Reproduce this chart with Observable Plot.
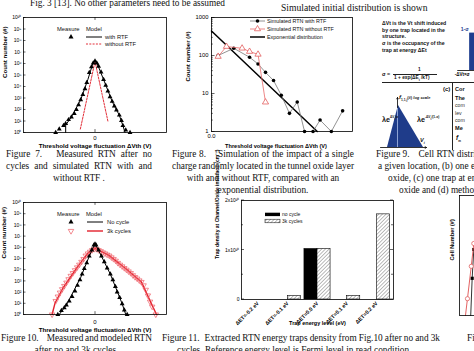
<!DOCTYPE html>
<html><head><meta charset="utf-8">
<script src="https://cdn.jsdelivr.net/npm/d3@7"></script>
<script src="https://cdn.jsdelivr.net/npm/@observablehq/plot@0.6"></script>
<style>
html,body{margin:0;padding:0;background:#fff;}
#page{position:relative;width:474px;height:351px;overflow:hidden;background:#fff;}
#page svg{position:absolute;}
.t{position:absolute;white-space:pre;line-height:1;color:#111;}
.cap{font-family:'Liberation Serif','Times New Roman',serif;}
.sans{font-family:'Liberation Sans',Arial,sans-serif;}
.hl{position:absolute;background:#222;}
</style></head><body><div id="page"></div>
<script>
// ---------------- DATA ----------------
const decades = [1, 10, 100, 1e3, 1e4, 1e5, 1e6, 1e7, 1e8, 1e9, 1e10];

// Figure 7
const fig7MeasX = [-0.55,-0.50,-0.44,-0.41,-0.37,-0.33,-0.29,-0.26,-0.23,-0.20,-0.17,-0.14,-0.115,-0.08,-0.05,-0.025,0,0.025,0.05,0.085,0.12,0.15,0.18,0.21,0.24,0.27,0.30,0.34,0.37,0.39,0.43,0.49];
const fig7MeasY = [1,2,4,6,13,22,45,100,250,700,2000,6300,22000,1.6e5,5e5,1.1e6,1.6e6,1.1e6,5.6e5,1.8e5,4e4,1.26e4,4000,1250,500,200,90,32,11,4,1.6,1];
const fig7RtfX = [-0.41,-0.41,-0.33,-0.2,-0.1,-0.03,0,0.03,0.12,0.24,0.34,0.39,0.42];
const fig7RtfY = [1,4.5,22,700,4e4,1e6,1.8e6,1e6,4e4,500,32,4,1];
const fig7NoRtfX = [-0.205,-0.1,-0.03,0,0.03,0.1,0.18];
const fig7NoRtfY = [2,2000,2e5,1.6e6,2e5,2000,10];

// Figure 8
const fig8WithX = [0.047,0.158,0.27,0.33,0.383,0.44,0.495,0.553,0.608,0.66,0.72,0.77,0.85,0.93];
const fig8WithY = [100,155,90,60,36,22,9,3,6,1,1,2,1,3.5];
const fig8WithoutX = [0.047,0.106,0.217,0.27,0.33,0.383];
const fig8WithoutY = [94,172,155,127,107,5.9];
const fig8ExpX = [0, 0.75];
const fig8ExpY = [440, 1];
const fig8YTicks = [1, 10, 100, 1000];
const fig8Minor = [2,3,4,5,6,7,8,9,20,30,40,50,60,70,80,90,200,300,400,500,600,700,800,900];

// Figure 10
const fig10BlkX = [-0.52,-0.47,-0.43,-0.40,-0.36,-0.32,-0.28,-0.245,-0.21,-0.18,-0.15,-0.115,-0.08,-0.045,-0.015,0,0.015,0.05,0.09,0.13,0.17,0.215,0.25,0.285,0.31,0.345,0.38,0.41,0.45];
const fig10BlkY = [1,2.2,4,7,16,40,125,400,1250,4000,12600,40000,1.6e5,5.6e5,1.6e6,2e6,1.6e6,5.6e5,1.6e5,5e4,1.4e4,4000,1250,316,100,32,9,2.5,1];
const fig10BlkLineX = [-0.5,-0.4,-0.2,-0.08,0,0.09,0.215,0.38,0.43];
const fig10BlkLineY = [1,7,2000,1.6e5,2.2e6,1.6e5,4000,9,1];
const fig10RedX = [-0.60,-0.55,-0.52,-0.49,-0.46,-0.43,-0.40,-0.37,-0.34,-0.31,-0.28,-0.25,-0.22,-0.19,-0.16,-0.13,-0.10,-0.07,-0.04,-0.01,0.02,0.05,0.08,0.11,0.14,0.17,0.20,0.23,0.26,0.29,0.32,0.35,0.38,0.41,0.44,0.47,0.50,0.53,0.56,0.59,0.62,0.65,0.68,0.71,0.74,0.77,0.80,0.85];
const fig10RedY = [1,16,40,90,180,350,700,1400,2800,5000,9000,16000,28000,50000,9e4,1.8e5,2.8e5,4e5,5.6e5,7e5,7e5,5.6e5,4.5e5,3.5e5,2.8e5,2.2e5,1.8e5,1.26e5,9e4,6.3e4,4e4,2.8e4,2e4,1.4e4,1e4,7000,5000,3200,2200,1600,1100,800,400,160,50,14,5,1];
const fig10RedLineX = [-0.6,-0.56,-0.45,-0.25,-0.1,0,0.2,0.45,0.65,0.78,0.86];
const fig10RedLineY = [1,10,220,16000,3e5,8e5,1.8e5,1e4,800,12,1];

// Figure 11
const energyCats = ["ΔET=-0.2 eV","ΔET=-0.1 eV","ΔET=0.0 eV","ΔET=0.1 eV","ΔET=0.2 eV"];
const noCycle = [0, 0, 1.02e10, 0, 0];
const cycles3k = [0, 0.07e10, 1.02e10, 0.07e10, 1.72e10];
const fig11Ticks = [0, 1e10, 2e10];
const fig11MinorTicks = [0.5e10, 1.5e10];

// Figure 12 (partly visible)
const fig12RedX = [0.33, 0.44, 0.65, 0.79];
const fig12RedY = [0, 14, 41, 60];
const fig12BlackX = [0.62, 0.70, 0.79];
const fig12BlackY = [0, 31, 55];

// Figure 9 schematic
const fig9TriV = [-1.0, 0.1, 2.6];
const fig9TriF = [0, 4.2, 0];
const fig9Occupancy = 0.85;
const fig9Notes = ["ΔVt is the Vt shift induced", "by one trap located in the", "structure.", "σ is the occupancy of the", "trap at energy ΔEt"];

// ---------------- HELPERS ----------------
const page = document.getElementById("page");
const SANS = "'Liberation Sans', Arial, sans-serif";
const RED = "#e3303a";
const sup = s => String(s).replace(/[-0-9]/g, c => "⁻⁰¹²³⁴⁵⁶⁷⁸⁹"["-0123456789".indexOf(c)]);
const pts = (xs, ys) => xs.map((x, i) => ({x, y: ys[i]}));
const decadeLabel = d => "10" + sup(Math.round(Math.log10(d)));
const style = fs => ({fontFamily: SANS, fontSize: fs + "px", background: "transparent", color: "#000", overflow: "visible"});
const G = draw => (index, scales, values, dims) => { const g = d3.create("svg:g"); draw(g, scales, dims); return g.node(); };
const triDown = {draw(ctx, size) { const s = Math.sqrt(4 * size / Math.sqrt(3)), h = s * Math.sqrt(3) / 2; ctx.moveTo(0, 2 * h / 3); ctx.lineTo(-s / 2, -h / 3); ctx.lineTo(s / 2, -h / 3); ctx.closePath(); }};

function put(svg, left, top) { svg.style.left = left + "px"; svg.style.top = top + "px"; page.appendChild(svg); }

function T(text, left, cy, o = {}) {
  const d = document.createElement("div");
  d.className = "t " + (o.sans ? "sans" : "cap");
  const size = o.size || 9.3;
  d.style.fontSize = size + "px";
  if (o.bold) d.style.fontWeight = "bold";
  if (o.italic) d.style.fontStyle = "italic";
  if (o.color) d.style.color = o.color;
  if (o.html) d.innerHTML = text;
  else if (text.includes("\t")) {
    const [a, b] = text.split("\t");
    d.appendChild(document.createTextNode(a));
    const sp = document.createElement("span"); sp.style.display = "inline-block"; sp.style.width = (o.gap || 10) + "px";
    d.appendChild(sp); d.appendChild(document.createTextNode(b));
  } else d.textContent = text;
  d.style.left = left + "px";
  d.style.top = (cy - 0.6 * size) + "px";
  page.appendChild(d);
  if (o.width) {
    const w = d.getBoundingClientRect().width;
    if (o.align === "center") d.style.left = (left + (o.width - w) / 2) + "px";
    else { const n = (text.match(/ /g) || []).length; if (n) d.style.wordSpacing = ((o.width - w) / n) + "px"; }
  }
  return d;
}
function hline(x1, x2, y) { const d = document.createElement("div"); d.className = "hl"; Object.assign(d.style, {left: x1 + "px", top: y + "px", width: (x2 - x1) + "px", height: "0.8px"}); page.appendChild(d); }
function vline(x, y1, y2) { const d = document.createElement("div"); d.className = "hl"; Object.assign(d.style, {left: x + "px", top: y1 + "px", width: "0.8px", height: (y2 - y1) + "px"}); page.appendChild(d); }

function legText(g, x, y, s, fs = 6) { g.append("text").attr("x", x).attr("y", y).attr("dy", "0.35em").attr("text-anchor", "start").attr("font-size", fs).attr("fill", "#111").text(s); }

// ---------------- FIGURE 7 ----------------
{
  const svg = Plot.plot({
    width: 170, height: 152, marginLeft: 23, marginRight: 4, marginTop: 7, marginBottom: 30,
    style: style(5),
    x: {domain: [-1, 1], label: null},
    y: {type: "log", domain: [1, 1e10], label: null},
    marks: [
      Plot.ruleY(decades, {x1: -1, x2: -0.965, stroke: "black", strokeWidth: 0.6}),
      Plot.ruleX([0], {y1: 1, y2: 1.8, stroke: "black", strokeWidth: 0.6}),
      Plot.ruleX([0], {y1: 5.5e9, y2: 1e10, stroke: "black", strokeWidth: 0.6}),
      Plot.axisY({ticks: decades, tickFormat: decadeLabel, tickSize: 0, tickPadding: 2, fontSize: 5, label: null}),
      Plot.axisX({ticks: [0], tickFormat: () => "0", tickSize: 0, tickPadding: 3.5, fontSize: 6, label: null}),
      Plot.line(pts(fig7NoRtfX, fig7NoRtfY), {x: "x", y: "y", stroke: RED, strokeWidth: 1, strokeDasharray: "2,1.3"}),
      Plot.line(pts(fig7RtfX, fig7RtfY), {x: "x", y: "y", stroke: "black", strokeWidth: 1}),
      Plot.dot(pts(fig7MeasX, fig7MeasY), {x: "x", y: "y", symbol: "triangle", fill: "black", r: 1.8}),
      Plot.text(["Threshold voltage fluctuation ΔVth (V)"], {frameAnchor: "bottom", dy: 15, fontWeight: "bold", fontSize: 6.2}),
      Plot.text(["Count number (#)"], {frameAnchor: "left", rotate: -90, dx: -18, dy: 3, fontWeight: "bold", fontSize: 6.2}),
      G(g => {
        legText(g, 57, 19, "Measure", 5.8); legText(g, 86, 19, "Model", 5.8);
        g.append("path").attr("d", d3.symbol(d3.symbolTriangle, 11)()).attr("transform", "translate(71,27)").attr("fill", "black");
        g.append("line").attr("x1", 86).attr("x2", 102).attr("y1", 27).attr("y2", 27).attr("stroke", "black").attr("stroke-width", 1);
        legText(g, 105, 27, "with RTF", 5.8);
        g.append("line").attr("x1", 86).attr("x2", 102).attr("y1", 34).attr("y2", 34).attr("stroke", RED).attr("stroke-width", 1).attr("stroke-dasharray", "2,1.3");
        legText(g, 105, 34, "without RTF", 5.8);
      }),
      Plot.frame({stroke: "black", strokeWidth: 0.8})
    ]
  });
  put(svg, 0, 10);
}

// ---------------- FIGURE 8 ----------------
{
  const svg = Plot.plot({
    width: 175, height: 150, marginLeft: 26, marginRight: 8, marginTop: 7, marginBottom: 29,
    style: style(6),
    x: {domain: [0, 1], label: null},
    y: {type: "log", domain: [1, 1000], label: null},
    marks: [
      Plot.ruleY(fig8YTicks, {x1: 0, x2: 0.025, stroke: "black", strokeWidth: 0.6}),
      Plot.ruleY(fig8Minor, {x1: 0, x2: 0.014, stroke: "black", strokeWidth: 0.5}),
      Plot.axisY({ticks: fig8YTicks, tickFormat: d => String(d), tickSize: 0, tickPadding: 3, fontSize: 5.8, label: null}),
      Plot.axisX({ticks: [0], tickFormat: () => "0.0", tickSize: 0, tickPadding: 2, fontSize: 5.8, label: null}),
      Plot.line(pts(fig8ExpX, fig8ExpY), {x: "x", y: "y", stroke: "black", strokeWidth: 1.5}),
      Plot.line(pts(fig8WithX, fig8WithY), {x: "x", y: "y", stroke: "#777", strokeWidth: 0.8}),
      Plot.dot(pts(fig8WithX, fig8WithY), {x: "x", y: "y", fill: "black", r: 1.8}),
      Plot.line(pts(fig8WithoutX, fig8WithoutY), {x: "x", y: "y", stroke: "#e86a6a", strokeWidth: 0.8}),
      Plot.dot(pts(fig8WithoutX, fig8WithoutY), {x: "x", y: "y", symbol: "triangle", stroke: "#e04a4a", fill: "white", strokeWidth: 0.7, r: 2.3}),
      Plot.text(["Threshold voltage fluctuation ΔVth (V)"], {frameAnchor: "bottom", dx: -6, dy: 16, fontWeight: "bold", fontSize: 5.6}),
      Plot.text(["Count number (#)"], {frameAnchor: "left", rotate: -90, dx: -23, dy: 7, fontWeight: "bold", fontSize: 6}),
      G(g => {
        g.append("line").attr("x1", 65).attr("x2", 80).attr("y1", 11).attr("y2", 11).attr("stroke", "#777").attr("stroke-width", 0.8);
        g.append("circle").attr("cx", 72.5).attr("cy", 11).attr("r", 1.8).attr("fill", "black");
        legText(g, 82, 11, "Simulated RTN with RTF", 5.4);
        g.append("line").attr("x1", 65).attr("x2", 80).attr("y1", 19).attr("y2", 19).attr("stroke", "#e86a6a").attr("stroke-width", 0.8);
        g.append("path").attr("d", d3.symbol(d3.symbolTriangle, 16)()).attr("transform", "translate(72.5,19)").attr("fill", "white").attr("stroke", "#e04a4a").attr("stroke-width", 0.7);
        legText(g, 82, 19, "Simulated RTN without RTF", 5.4);
        g.append("line").attr("x1", 65).attr("x2", 80).attr("y1", 27).attr("y2", 27).attr("stroke", "black").attr("stroke-width", 1.5);
        legText(g, 82, 27, "Exponential distribution", 5.4);
      }),
      Plot.frame({stroke: "black", strokeWidth: 0.8})
    ]
  });
  put(svg, 185, 10);
}

// ---------------- FIGURE 10 ----------------
{
  const svg = Plot.plot({
    width: 170, height: 145, marginLeft: 23, marginRight: 4, marginTop: 10, marginBottom: 23,
    style: style(5),
    x: {domain: [-1, 1], label: null},
    y: {type: "log", domain: [1, 1e10], label: null},
    marks: [
      Plot.ruleY(decades, {x1: -1, x2: -0.965, stroke: "black", strokeWidth: 0.6}),
      Plot.ruleX([0], {y1: 1, y2: 1.8, stroke: "black", strokeWidth: 0.6}),
      Plot.ruleX([0], {y1: 5.5e9, y2: 1e10, stroke: "black", strokeWidth: 0.6}),
      Plot.axisY({ticks: decades, tickFormat: decadeLabel, tickSize: 0, tickPadding: 2, fontSize: 5, label: null}),
      Plot.axisX({ticks: [0], tickFormat: () => "0", tickSize: 0, tickPadding: 5, fontSize: 6, label: null}),
      Plot.line(pts(fig10RedLineX, fig10RedLineY), {x: "x", y: "y", stroke: "#e3202c", strokeWidth: 1.4}),
      Plot.dot(pts(fig10RedX, fig10RedY), {x: "x", y: "y", symbol: triDown, stroke: "#ee5a63", fill: "none", strokeWidth: 0.7, r: 2}),
      Plot.line(pts(fig10BlkLineX, fig10BlkLineY), {x: "x", y: "y", stroke: "black", strokeWidth: 1}),
      Plot.dot(pts(fig10BlkX, fig10BlkY), {x: "x", y: "y", symbol: "triangle", fill: "black", r: 1.8}),
      Plot.text(["Threshold voltage fluctuation ΔVth (V)"], {frameAnchor: "bottom", dy: 17, fontWeight: "bold", fontSize: 6.2}),
      Plot.text(["Count number (#)"], {frameAnchor: "left", rotate: -90, dx: -19, dy: 0, fontWeight: "bold", fontSize: 6.2}),
      G(g => {
        legText(g, 57, 22, "Measure", 5.8); legText(g, 86, 22, "Model", 5.8);
        g.append("path").attr("d", d3.symbol(d3.symbolTriangle, 11)()).attr("transform", "translate(71,30)").attr("fill", "black");
        g.append("line").attr("x1", 87).attr("x2", 103).attr("y1", 30).attr("y2", 30).attr("stroke", "black").attr("stroke-width", 1);
        legText(g, 107, 30, "No cycle", 5.8);
        g.append("path").attr("d", d3.symbol(triDown, 13)()).attr("transform", "translate(71,39)").attr("fill", "none").attr("stroke", "#ee5a63").attr("stroke-width", 0.7);
        g.append("line").attr("x1", 87).attr("x2", 103).attr("y1", 39).attr("y2", 39).attr("stroke", "#e3202c").attr("stroke-width", 1.4);
        legText(g, 107, 39, "3k cycles", 5.8);
      }),
      Plot.frame({stroke: "black", strokeWidth: 0.8})
    ]
  });
  put(svg, 0, 192);
}

// ---------------- FIGURE 11 ----------------
{
  const W = 200, mL = 41, mR = 7, pad = 0.12;
  const step = (W - mL - mR) / (energyCats.length - pad + 2 * pad);
  const bw = step * (1 - pad);
  const rows = energyCats.map((c, i) => ({cat: c, a: noCycle[i], b: cycles3k[i]}));
  const svg = Plot.plot({
    width: W, height: 145, marginLeft: mL, marginRight: mR, marginTop: 10, marginBottom: 36,
    style: style(5),
    x: {type: "band", domain: energyCats, paddingInner: pad, paddingOuter: pad, round: false, label: null},
    y: {domain: [0, 2e10], label: null},
    marks: [
      G(g => {
        const p = g.append("defs").append("pattern").attr("id", "hatch11").attr("width", 2.6).attr("height", 2.6)
          .attr("patternUnits", "userSpaceOnUse").attr("patternTransform", "rotate(45)");
        p.append("rect").attr("width", 2.6).attr("height", 2.6).attr("fill", "white");
        p.append("line").attr("x1", 0).attr("y1", 0).attr("x2", 0).attr("y2", 2.6).attr("stroke", "#777").attr("stroke-width", 1);
      }),
      Plot.barY(rows.filter(d => d.a > 0), {x: "cat", y1: 0, y2: "a", fill: "black", stroke: "black", strokeWidth: 0.6, insetRight: bw / 2}),
      Plot.barY(rows.filter(d => d.b > 0), {x: "cat", y1: 0, y2: "b", fill: "url(#hatch11)", stroke: "black", strokeWidth: 0.6, insetLeft: bw / 2}),
      Plot.axisY({ticks: fig11Ticks, tickFormat: d => d === 0 ? "0" : (d / 1e10) + "x10¹⁰", tickSize: 0, tickPadding: 2, fontSize: 5, label: null}),
      Plot.axisX({tickRotate: -45, tickSize: 0, tickPadding: 3, fontSize: 5.3, fontWeight: "bold", label: null}),
      G((g, scales) => {
        const x0 = mL, x1 = W - mR;
        for (const v of fig11Ticks.concat(fig11MinorTicks)) {
          const y = scales.y(v), len = fig11Ticks.includes(v) ? 3 : 2;
          g.append("line").attr("x1", x0).attr("x2", x0 + len).attr("y1", y).attr("y2", y).attr("stroke", "black").attr("stroke-width", 0.6);
          g.append("line").attr("x1", x1 - len).attr("x2", x1).attr("y1", y).attr("y2", y).attr("stroke", "black").attr("stroke-width", 0.6);
        }
        g.append("rect").attr("x", 65).attr("y", 22.7).attr("width", 15).attr("height", 3.4).attr("fill", "black");
        legText(g, 82, 24.4, "no cycle", 5);
        g.append("rect").attr("x", 65).attr("y", 29.2).attr("width", 15).attr("height", 3.6).attr("fill", "url(#hatch11)").attr("stroke", "black").attr("stroke-width", 0.5);
        legText(g, 82, 31, "3k cycles", 5);
      }),
      Plot.text(["Trap energy level (eV)"], {frameAnchor: "bottom", dy: 25, fontWeight: "bold", fontSize: 5.5}),
      Plot.text(["Trap density at Channel/Oxide interface (cm⁻²)"], {frameAnchor: "left", rotate: -90, dx: -24, dy: 9, fontWeight: "bold", fontSize: 5}),
      Plot.frame({stroke: "black", strokeWidth: 0.8})
    ]
  });
  put(svg, 200, 190);
}

// ---------------- FIGURE 12 (cut at the edge) ----------------
{
  const svg = Plot.plot({
    width: 200, height: 135, marginLeft: 19, marginRight: 0, marginTop: 5, marginBottom: 10,
    style: style(5),
    x: {domain: [0, 10], axis: null},
    y: {domain: [0, 100], axis: null},
    marks: [
      Plot.line(pts(fig12BlackX, fig12BlackY), {x: "x", y: "y", stroke: "black", strokeWidth: 0.8}),
      Plot.dot(pts(fig12BlackX, fig12BlackY).slice(1), {x: "x", y: "y", symbol: "square", fill: "black", r: 1.8}),
      Plot.line(pts(fig12RedX, fig12RedY), {x: "x", y: "y", stroke: "#e05050", strokeWidth: 0.9}),
      Plot.dot(pts(fig12RedX, fig12RedY).slice(1), {x: "x", y: "y", stroke: "#e06060", fill: "white", strokeWidth: 0.8, r: 2.1}),
      Plot.text(["Cell Number (#)"], {frameAnchor: "left", rotate: -90, dx: -7, dy: 5, fontWeight: "bold", fontSize: 5.6}),
      Plot.frame({stroke: "black", strokeWidth: 0.8})
    ]
  });
  put(svg, 440, 190);
}

// ---------------- FIGURE 9 schematic ----------------
{
  const bar = Plot.plot({
    width: 40, height: 54, marginLeft: 3, marginRight: 0, marginTop: 6, marginBottom: 4,
    style: style(5),
    x: {domain: [-1, 0.4], axis: null},
    y: {domain: [0, 1], axis: null},
    marks: [
      Plot.rectY([{x1: -0.2, x2: 0.2, y: fig9Occupancy}], {x1: "x1", x2: "x2", y1: 0, y2: "y", fill: "#1d3d8f"}),
      Plot.ruleY([0], {x1: -0.65, x2: 0.4, stroke: "black", strokeWidth: 0.8}),
      Plot.text([{x: -0.2, y: fig9Occupancy}], {x: "x", y: "y", text: () => "1-σ", textAnchor: "end", dx: -1, dy: -4, fill: "#1d3d8f", fontWeight: "bold", fontSize: 5}),
      Plot.text([{x: -0.2, y: 0}], {x: "x", y: "y", text: () => "-ΔVt×σ", textAnchor: "end", dy: 4, fontWeight: "bold", fontSize: 4.5})
    ]
  });
  put(bar, 445, 20);

  const tri = Plot.plot({
    width: 75, height: 70, marginLeft: 5, marginRight: 0, marginTop: 5, marginBottom: 5,
    style: style(5),
    x: {domain: [-1.7, 5.3], axis: null},
    y: {domain: [-0.3, 5.7], axis: null},
    marks: [
      Plot.areaY(fig9TriV.map((v, i) => ({v, f: fig9TriF[i]})), {x: "v", y: "f", fill: "#1f3c8a"}),
      Plot.ruleX([0], {y1: 0, y2: 4.0, stroke: "#a9bde6", strokeWidth: 0.8}),
      Plot.arrow([{x1: 0, y1: 4.0, x2: 0, y2: 5.0}], {x1: "x1", y1: "y1", x2: "x2", y2: "y2", stroke: "black", strokeWidth: 0.8, headLength: 3}),
      Plot.arrow([{x1: -1.7, y1: 0, x2: 2.9, y2: 0}], {x1: "x1", y1: "y1", x2: "x2", y2: "y2", stroke: "black", strokeWidth: 0.8, headLength: 3})
    ]
  });
  put(tri, 375, 85);

  fig9Notes.forEach((s, i) => T(s, 382, 24 + i * 6.8, {sans: true, bold: true, size: 5.2}));
  T("σ =", 382, 75.5, {sans: true, bold: true, size: 5.3});
  T("1", 418, 71, {sans: true, bold: true, size: 4.8});
  hline(393, 437, 74.2);
  T("1 + exp(ΔE<sub style='font-size:3px'>t</sub> /kT)", 394, 79, {sans: true, bold: true, size: 4.8, html: true});
  hline(382, 474, 82);
  vline(452, 82, 150);
  T("(c)", 443, 90, {sans: true, bold: true, size: 6});
  T("<i>f</i><sub style='font-size:3.2px'>1,1,j</sub><span style='font-size:4px'>(#) <i>log scale</i></span>", 399, 98, {sans: true, bold: true, size: 6.2, html: true});
  T("λe<sup style='font-size:3.2px'>ΔV<sub>t</sub>/σ</sup>", 382, 120, {sans: true, bold: true, size: 7.2, html: true});
  T("λe<sup style='font-size:3.2px'>-ΔV<sub>t</sub>/(1-σ)</sup>", 417, 120, {sans: true, bold: true, size: 7.2, html: true});
  T("V<sub style='font-size:3px'>t</sub>", 420, 141, {sans: true, bold: true, italic: true, size: 5.5, html: true});
  T("Cor", 455, 90, {sans: true, bold: true, size: 5.6});
  T("The", 455, 99, {sans: true, bold: true, size: 5.6});
  T("com", 455, 106.5, {sans: true, size: 5.2, color: "#333"});
  T("lev", 455, 114, {sans: true, size: 5.2, color: "#333"});
  T("com", 455, 121.5, {sans: true, size: 5.2, color: "#333"});
  T("Me", 455, 129.5, {sans: true, bold: true, size: 5.6});
  T("<i>f</i><sub style='font-size:3px'>m</sub>", 456, 139, {sans: true, bold: true, size: 6.5, html: true});
}

// ---------------- BODY TEXT & CAPTIONS ----------------
T("Fig. 3 [13]. No other parameters need to be assumed", 30, 4.5);
T("Simulated initial distribution is shown", 281, 9, {size: 9.6});

T("Figure 7.\tMeasured RTN after no", 6, 156, {width: 146, gap: 14});
T("cycles and simulated RTN with and", 6, 168, {width: 146});
T("without RTF .", 6, 180, {width: 146, align: "center"});

T("Figure 8.\tSimulation of the impact of a single", 172, 156, {width: 182, gap: 12});
T("charge randomly located in the tunnel oxide layer", 172, 168, {width: 182});
T("with and without RTF, compared with an", 172, 180, {width: 182, align: "center"});
T("exponential distribution.", 172, 191.5, {width: 182, align: "center"});

T("Figure 9.\tCell RTN distrib", 376, 156, {gap: 9});
T("a given location, (b) one ele", 378, 168);
T("oxide, (c) one trap at energ", 388, 180);
T("oxide and (d) method", 399, 191.5);

T("Figure 10.\tMeasured and modeled RTN", 1, 340, {width: 151, gap: 8});
T("after no and 3k cycles.", 1, 352, {width: 151, align: "center"});

T("Figure 11.\tExtracted RTN energy traps density from Fig.10 after no and 3k", 162, 340, {width: 278, gap: 5});
T("cycles. Reference energy level is Fermi level in read condition", 177, 352);

T("Fi", 467, 340);
</script></body></html>
